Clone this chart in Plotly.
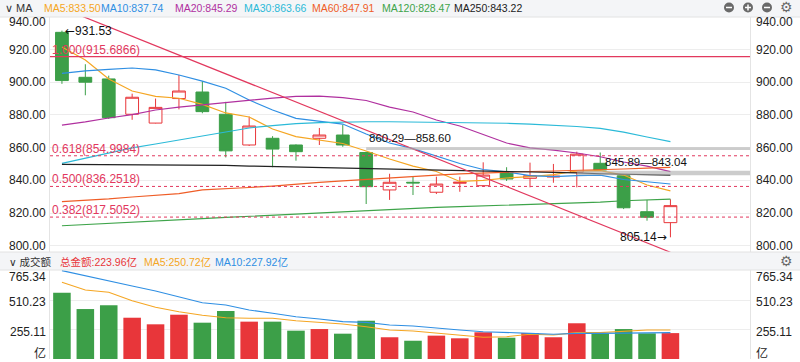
import plotly.graph_objects as go

W, H = 800, 362

# ---------------- data ----------------
idx = list(range(27))
opens  = [930.5, 903.0, 902.0, 880.4, 875.0, 890.0, 894.0, 880.4, 861.6, 865.7, 861.6, 865.7, 867.7, 857.0,
          834.1, 838.8, 832.7, 838.2, 836.7, 845.3, 841.2, 842.0, 845.0, 850.4, 842.8, 820.8, 814.1]
closes = [901.0, 900.0, 878.3, 890.8, 884.6, 894.6, 882.0, 858.0, 873.2, 859.1, 857.5, 867.7, 861.6, 836.1,
          838.8, 838.4, 837.7, 838.8, 843.2, 840.8, 842.8, 842.5, 856.0, 846.3, 823.2, 817.4, 824.5]
highs  = [931.53, 911.0, 904.0, 893.0, 890.0, 904.4, 900.7, 888.0, 879.0, 867.0, 862.0, 872.0, 874.0, 857.5,
          844.0, 842.2, 842.2, 842.2, 851.0, 848.0, 850.8, 850.0, 857.5, 857.0, 843.3, 828.0, 828.4]
lows   = [899.0, 892.0, 877.5, 877.0, 874.8, 883.4, 881.0, 854.0, 861.0, 848.0, 852.0, 861.6, 860.5, 825.5,
          828.0, 831.0, 831.6, 833.0, 836.0, 839.6, 835.7, 838.5, 835.7, 846.0, 822.4, 815.3, 805.14]

ma5   = [921.5, 913.6, 902.0, 894.6, 891.3, 890.2, 886.4, 881.2, 878.7, 871.4, 866.7, 864.6, 862.5, 857.9,
         853.0, 848.7, 845.4, 839.3, 839.9, 841.4, 842.2, 843.5, 845.7, 845.9, 843.2, 837.1, 833.50]
ma10  = [905.4, 906.9, 907.8, 908.7, 907.5, 904.4, 900.7, 896.3, 889.1, 883.0, 877.9, 876.0, 874.4, 868.3,
         862.8, 859.4, 854.9, 850.3, 846.6, 845.1, 842.9, 842.2, 842.9, 843.2, 840.5, 839.3, 837.74]
ma20  = [873.8, 875.7, 878.1, 880.2, 883.0, 884.8, 886.1, 887.6, 889.1, 890.3, 891.3, 891.5, 890.6, 888.8,
         884.8, 881.8, 876.9, 873.2, 868.0, 862.8, 859.8, 858.5, 856.7, 854.4, 851.2, 848.7, 845.29]
ma30  = [850.4, 853.6, 856.7, 859.8, 862.2, 864.6, 867.1, 869.8, 872.0, 873.5, 874.7, 875.3, 875.7, 875.8,
         875.8, 875.7, 875.5, 875.4, 875.2, 874.9, 874.4, 873.8, 872.9, 871.8, 869.5, 866.5, 863.66]
ma60  = [826.9, 827.6, 828.6, 829.8, 831.0, 831.9, 834.1, 834.7, 835.6, 836.5, 837.7, 838.7, 839.6, 840.5,
         841.7, 842.6, 843.2, 843.9, 844.5, 844.8, 845.4, 845.7, 846.0, 846.3, 846.9, 847.5, 847.91]
ma120 = [812.2, 813.0, 813.7, 814.4, 815.1, 815.9, 816.6, 817.3, 818.0, 818.7, 819.3, 819.9, 820.6, 821.5,
         822.4, 822.9, 823.4, 823.9, 824.3, 824.8, 825.3, 825.7, 826.2, 826.7, 827.5, 828.1, 828.47]
ma250 = [849.8, 849.7, 849.7, 849.6, 849.5, 849.5, 849.4, 849.1, 848.7, 848.4, 848.1, 847.8, 847.5, 847.3,
         847.1, 846.9, 846.6, 846.3, 846.0, 845.7, 845.3, 844.9, 844.5, 844.0, 843.7, 843.4, 843.22]

volume  = [573, 432, 464, 357, 300, 383, 314, 415, 323, 323, 245, 259, 219, 331, 188, 158, 202, 179,
           231, 184, 225, 188, 309, 222, 259, 222, 223.96]
vol_ma5  = [663, 597, 577, 504, 447, 409, 378, 357, 352, 352, 331, 320, 303, 279, 251, 242, 222, 202,
            188, 193, 214, 208, 228, 228, 240, 251, 250.72]
vol_ma10 = [764, 718, 677, 631, 588, 539, 487, 467, 424, 395, 366, 346, 323, 317, 294, 285, 271, 251,
            236, 231, 222, 214, 222, 222, 222, 227, 227.92]

trend_x = [0, 26]
trend_y = [945.3, 796.0]

fib_levels = [915.6866, 854.9984, 836.2518, 817.5052]
fib_labels = ["1.000(915.6866)", "0.618(854.9984)", "0.500(836.2518)", "0.382(817.5052)"]

bands = [(13, 860.29, 858.60, "860.29\u2014858.60"), (22, 845.89, 843.04, "845.89\u2014843.04")]

price_ticks = [940, 920, 900, 880, 860, 840, 820, 800]
price_tick_labels = ["940.00", "920.00", "900.00", "880.00", "860.00", "840.00", "820.00", "800.00"]
vol_ticks = [765.34, 510.23, 255.11]
vol_tick_labels = ["765.34", "510.23", "255.11"]

ma_names = ["MA5", "MA10", "MA20", "MA30", "MA60", "MA120", "MA250"]
ma_colors = ["#f5a623", "#2f8fe3", "#b0309f", "#2bbad8", "#ef5d27", "#3ea44a", "#222222"]
ma_series = [ma5, ma10, ma20, ma30, ma60, ma120, ma250]

RED = "#e8363a"
GREEN = "#3c9f48"
FIB = "#e2385e"
FONT = "Liberation Sans, Arial, DejaVu Sans, Noto Sans CJK SC, sans-serif"

# ---------------- geometry helpers ----------------
def PX(x):
    return x / W

def PY(y):
    return 1 - y / H

X_RANGE = [-0.51, 29.4]
Y_RANGE = [796.15, 939.88]
V_RANGE = [0, 769.7]
P_TOP, P_BOT = 17, 252      # price panel pixel rows
V_TOP, V_BOT = 270, 359     # volume panel pixel rows

def price_paper(p):
    frac = (p - Y_RANGE[0]) / (Y_RANGE[1] - Y_RANGE[0])
    return PY(P_BOT) + frac * (PY(P_TOP) - PY(P_BOT))

ARROW_L = '<span style="font-family:DejaVu Sans">\u2190</span>'
ARROW_R = '<span style="font-family:DejaVu Sans">\u2192</span>'

fig = go.Figure()

# MA lines on price panel
for name, col, s in zip(ma_names, ma_colors, ma_series):
    fig.add_trace(go.Scatter(x=idx, y=s, mode="lines", line=dict(color=col, width=1.2),
                             hoverinfo="skip", xaxis="x", yaxis="y"))

# trend line
fig.add_trace(go.Scatter(x=trend_x, y=trend_y, mode="lines", line=dict(color=FIB, width=1.2),
                         hoverinfo="skip", xaxis="x", yaxis="y"))

# candles
fig.add_trace(go.Candlestick(
    x=idx, open=opens, high=highs, low=lows, close=closes,
    increasing=dict(line=dict(color=RED, width=1), fillcolor="white"),
    decreasing=dict(line=dict(color=GREEN, width=1), fillcolor=GREEN),
    whiskerwidth=0, xaxis="x", yaxis="y", hoverinfo="skip"))

# volume bars
vcolors = [RED if c >= o else GREEN for o, c in zip(opens, closes)]
fig.add_trace(go.Bar(x=idx, y=volume, marker=dict(color=vcolors, line=dict(width=0)),
                     xaxis="x2", yaxis="y2", hoverinfo="skip"))
fig.add_trace(go.Scatter(x=idx, y=vol_ma5, mode="lines", line=dict(color="#f5a623", width=1.1),
                         xaxis="x2", yaxis="y2", hoverinfo="skip"))
fig.add_trace(go.Scatter(x=idx, y=vol_ma10, mode="lines", line=dict(color="#2f8fe3", width=1.1),
                         xaxis="x2", yaxis="y2", hoverinfo="skip"))

shapes = []
annotations = []

# header bars
for top, bot in [(0, 17), (252, 270)]:
    shapes.append(dict(type="rect", xref="paper", yref="paper", x0=0, x1=1, y0=PY(bot), y1=PY(top),
                       fillcolor="#f4f5f7", line=dict(width=0), layer="below"))
    shapes.append(dict(type="line", xref="paper", yref="paper", x0=0, x1=1, y0=PY(bot), y1=PY(bot),
                       line=dict(color="#e2e2e2", width=1)))
    if top > 0:
        shapes.append(dict(type="line", xref="paper", yref="paper", x0=0, x1=1, y0=PY(top), y1=PY(top),
                           line=dict(color="#e2e2e2", width=1)))

# fib lines
for i, (lv, lab) in enumerate(zip(fib_levels, fib_labels)):
    shapes.append(dict(type="line", xref="paper", yref="y", x0=PX(50), x1=PX(750), y0=lv, y1=lv,
                       line=dict(color=FIB, width=1.3 if i == 0 else 1, dash="solid" if i == 0 else "dot")))
    annotations.append(dict(text=lab, xref="paper", yref="y", x=PX(50), y=lv, xanchor="left",
                            yanchor="middle", yshift=7, showarrow=False,
                            font=dict(size=12, color=FIB, family=FONT)))

# gray bands
for start, hi, lo, lab in bands:
    shapes.append(dict(type="rect", xref="x", yref="y", x0=start, x1=X_RANGE[1], y0=lo, y1=hi,
                       fillcolor="rgba(170,170,170,0.6)", line=dict(width=0)))
    annotations.append(dict(text=lab, xref="x", yref="y", x=start + (0.05 if start == 13 else 1.1), y=hi,
                            xanchor="left", yanchor="bottom", yshift=1, showarrow=False,
                            font=dict(size=11.5, color="#111", family=FONT)))

# high / low markers
annotations.append(dict(text=ARROW_L + f"{highs[0]:.2f}", xref="x", yref="y", x=idx[0], y=highs[0],
                        xanchor="left", yanchor="middle", xshift=1, showarrow=False,
                        font=dict(size=12, color="#111", family=FONT)))
annotations.append(dict(text=f"{lows[-1]:.2f}" + ARROW_R, xref="x", yref="y", x=idx[-1], y=lows[-1],
                        xanchor="right", yanchor="middle", xshift=-1, showarrow=False,
                        font=dict(size=12, color="#111", family=FONT)))

# price tick labels (paper coordinates so the top one is never hidden)
for v, lab in zip(price_ticks, price_tick_labels):
    ys = -5 if v == price_ticks[0] else 0
    for xx, anc in [(PX(48), "right"), (PX(754), "left")]:
        annotations.append(dict(text=lab, xref="paper", yref="paper", x=xx, y=price_paper(v),
                                xanchor=anc, yanchor="middle", yshift=ys, showarrow=False,
                                font=dict(size=12, color="#222", family=FONT)))

# volume tick labels
for v, lab in zip(vol_ticks, vol_tick_labels):
    ys = -6 if v == vol_ticks[0] else -2
    for xx, anc in [(PX(48), "right"), (PX(754), "left")]:
        annotations.append(dict(text=lab, xref="paper", yref="y2", x=xx, y=v, xanchor=anc,
                                yanchor="middle", yshift=ys, showarrow=False,
                                font=dict(size=12, color="#222", family=FONT)))
for xx, anc in [(PX(48), "right"), (PX(754), "left")]:
    annotations.append(dict(text="亿", xref="paper", yref="paper", x=xx, y=PY(353), xanchor=anc,
                            yanchor="middle", showarrow=False,
                            font=dict(size=12, color="#222", family=FONT)))

# top legend
annotations.append(dict(text="\u2228 MA", xref="paper", yref="paper", x=PX(3), y=PY(8), xanchor="left",
                        yanchor="middle", showarrow=False, font=dict(size=11, color="#333", family=FONT)))
legend_x = [42, 99, 173, 242, 310, 380, 452]
for name, col, s, lx in zip(ma_names, ma_colors, ma_series, legend_x):
    annotations.append(dict(text=f"{name}:{s[-1]:.2f}", xref="paper", yref="paper", x=PX(lx), y=PY(8),
                            xanchor="left", yanchor="middle", showarrow=False,
                            font=dict(size=10.5, color=col, family=FONT)))

# volume legend
vol_leg = [("\u2228 成交额", "#333", 7), (f"总金额:{volume[-1]:.2f}亿", RED, 58),
           (f"MA5:{vol_ma5[-1]:.2f}亿", "#f5a623", 142), (f"MA10:{vol_ma10[-1]:.2f}亿", "#2f8fe3", 213)]
for t, c, lx in vol_leg:
    annotations.append(dict(text=t, xref="paper", yref="paper", x=PX(lx), y=PY(262), xanchor="left",
                            yanchor="middle", showarrow=False, font=dict(size=10.5, color=c, family=FONT)))

# icons
for cx, kind in [(729, "minus"), (748, "plus"), (767, "minus")]:
    shapes.append(dict(type="circle", xref="paper", yref="paper", x0=PX(cx - 5), x1=PX(cx + 5),
                       y0=PY(12.5), y1=PY(2.5), fillcolor="#6a6a6a", line=dict(width=0)))
    shapes.append(dict(type="line", xref="paper", yref="paper", x0=PX(cx - 3), x1=PX(cx + 3),
                       y0=PY(7.5), y1=PY(7.5), line=dict(color="white", width=1.5)))
    if kind == "plus":
        shapes.append(dict(type="line", xref="paper", yref="paper", x0=PX(cx), x1=PX(cx),
                           y0=PY(10.5), y1=PY(4.5), line=dict(color="white", width=1.5)))
for gy in [7.5, 261]:
    annotations.append(dict(text="\u2699", xref="paper", yref="paper", x=PX(786), y=PY(gy),
                            xanchor="center", yanchor="middle", showarrow=False,
                            font=dict(size=14, color="#6a6a6a", family="DejaVu Sans")))

fig.update_layout(
    width=W, height=H, margin=dict(l=0, r=0, t=0, b=0),
    paper_bgcolor="white", plot_bgcolor="white", showlegend=False,
    boxgap=0.22, bargap=0.25, hovermode=False,
    xaxis=dict(domain=[PX(50), PX(750)], range=X_RANGE, visible=False, anchor="y"),
    yaxis=dict(domain=[PY(P_BOT), PY(P_TOP)], range=Y_RANGE, tickvals=price_ticks, showticklabels=False,
               showgrid=True, gridcolor="#ededed", zeroline=False, showline=True, mirror=True,
               linecolor="#e4e4e4", ticks="", anchor="x"),
    xaxis2=dict(domain=[PX(50), PX(750)], range=X_RANGE, visible=False, anchor="y2", matches="x"),
    yaxis2=dict(domain=[PY(V_BOT), PY(V_TOP)], range=V_RANGE, tickvals=vol_ticks, showticklabels=False,
                showgrid=True, gridcolor="#ededed", zeroline=False, showline=True, mirror=True,
                linecolor="#e4e4e4", ticks="", anchor="x2"),
    shapes=shapes, annotations=annotations,
)
fig.update_xaxes(rangeslider_visible=False)

fig.write_html("out.html")
